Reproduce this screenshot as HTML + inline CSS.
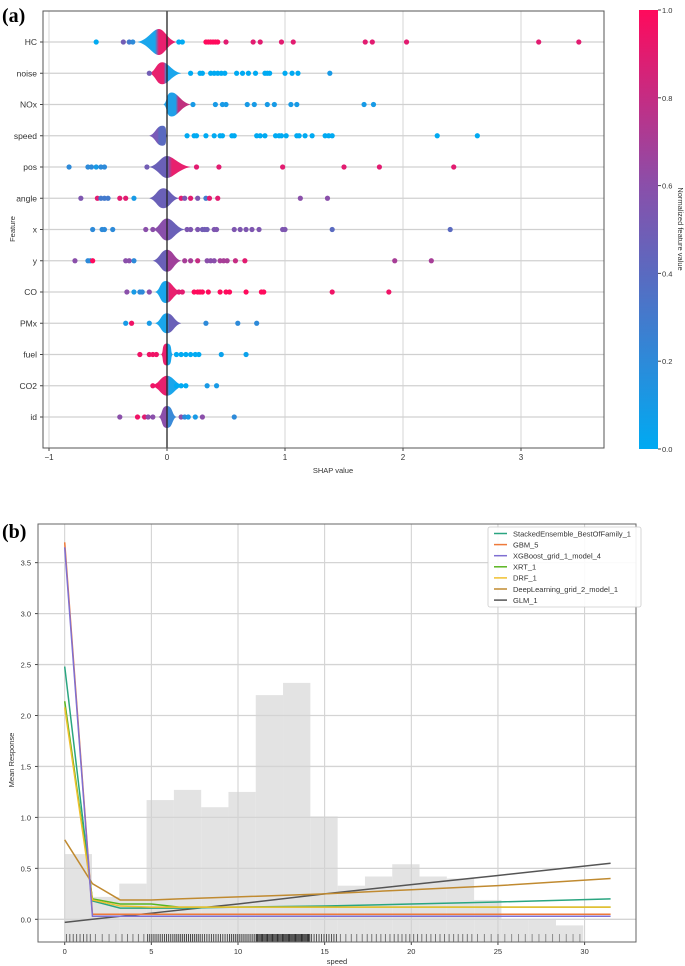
<!DOCTYPE html>
<html><head><meta charset="utf-8">
<style>
html,body{margin:0;padding:0;background:#fff;}
svg{display:block;font-family:"Liberation Sans",sans-serif;}
</style></head>
<body>
<svg id="chart" width="685" height="966" viewBox="0 0 685 966" xmlns="http://www.w3.org/2000/svg">
<defs>
<linearGradient id="cbar" x1="0" y1="1" x2="0" y2="0">
<stop offset="0" stop-color="#00aaf2"/><stop offset="0.4" stop-color="#5a6ac0"/><stop offset="0.6" stop-color="#8a4faa"/><stop offset="1" stop-color="#ff0a5c"/>
</linearGradient>
</defs>
<g id="pa"></g>
<g id="pb"></g>
</svg>
<script>
// ---------- Panel (a) data ----------
const features = ["HC","noise","NOx","speed","pos","angle","x","y","CO","PMx","fuel","CO2","id"];
const shapTicks = [-1,0,1,2,3];
const blobLo   = [-0.25,-0.15,-0.03,-0.15,-0.15,-0.15,-0.12,-0.12,-0.10,-0.10,-0.05,-0.13,-0.07];
const blobHi   = [ 0.08, 0.12, 0.20, 0.00, 0.20, 0.10, 0.15, 0.12, 0.12, 0.12, 0.05, 0.14, 0.08];
const blobPeak = [-0.07,-0.04, 0.04,-0.04, 0.00,-0.03, 0.00, 0.00,-0.01, 0.00, 0.00, 0.00, 0.00];
const blobH    = [13,11,12,10,11,10,11,11,11,10,11,10,11];
const blobLeft = ["#1aa6ec","#e8206e","#20a0e8","#7a5ab8","#6a60b8","#6a60b8","#8a4faa","#6a60b8","#1aa6ec","#1aa6ec","#e8206e","#e8206e","#8a4faa"];
const blobRight= ["#e8206e","#1aa6ec","#c0307e","#5a6ac0","#e8206e","#6a60b8","#6a60b8","#a0409a","#e8206e","#6a60b8","#1aa6ec","#1aa6ec","#3a8ad8"];
// outlier points: shap values and normalized feature values
const ptShap = [
 [-0.6,-0.37,-0.32,-0.29,0.1,0.13,0.33,0.35,0.37,0.39,0.41,0.43,0.5,0.73,0.79,0.97,1.07,1.68,1.74,2.03,3.15,3.49],
 [-0.15,0.2,0.28,0.3,0.37,0.4,0.43,0.46,0.49,0.59,0.64,0.69,0.75,0.83,0.85,0.87,1.0,1.06,1.11,1.38],
 [0.22,0.41,0.47,0.5,0.68,0.74,0.85,0.91,1.05,1.1,1.67,1.75],
 [0.17,0.23,0.25,0.33,0.4,0.45,0.47,0.55,0.57,0.76,0.79,0.83,0.92,0.95,0.97,1.01,1.1,1.12,1.17,1.23,1.34,1.37,1.4,2.29,2.63],
 [-0.83,-0.67,-0.64,-0.6,-0.56,-0.53,-0.17,0.25,0.44,0.98,1.5,1.8,2.43],
 [-0.73,-0.59,-0.56,-0.53,-0.5,-0.4,-0.35,-0.28,0.12,0.15,0.2,0.26,0.33,0.36,0.43,1.13,1.36],
 [-0.63,-0.55,-0.53,-0.46,-0.18,-0.12,0.17,0.2,0.26,0.3,0.32,0.34,0.4,0.42,0.57,0.62,0.67,0.72,0.78,0.98,1.0,1.4,2.4],
 [-0.78,-0.67,-0.65,-0.63,-0.35,-0.32,-0.28,0.15,0.2,0.26,0.34,0.37,0.4,0.45,0.48,0.51,0.58,0.66,1.93,2.24],
 [-0.34,-0.28,-0.23,-0.21,-0.15,0.1,0.13,0.23,0.26,0.28,0.3,0.35,0.45,0.5,0.53,0.67,0.8,0.82,1.4,1.88],
 [-0.35,-0.3,-0.15,0.33,0.6,0.76],
 [-0.23,-0.15,-0.12,-0.09,0.08,0.12,0.16,0.2,0.24,0.27,0.46,0.67],
 [-0.12,-0.08,0.08,0.12,0.16,0.34,0.42],
 [-0.4,-0.25,-0.19,-0.16,-0.12,0.12,0.15,0.18,0.24,0.3,0.57]
];
const ptVal = [
 [0,0.5,0.3,0.2,0,0,1,1,1,1,1,1,0.9,0.9,0.9,0.9,0.9,0.9,0.9,0.9,0.9,0.9],
 [0.5,0,0,0,0,0,0,0,0,0,0,0,0,0,0,0,0,0,0,0.1],
 [0.1,0.1,0.1,0.1,0.1,0.1,0.1,0.1,0.1,0.1,0.1,0.1],
 [0,0,0,0,0,0,0,0,0,0,0,0,0,0,0,0,0,0,0,0,0,0,0,0,0],
 [0.2,0.2,0.2,0.1,0.2,0.2,0.5,0.9,0.9,0.9,0.9,0.9,0.9],
 [0.55,0.9,0.3,0.3,0.3,0.9,0.9,0.1,0.9,0.55,0.9,0.55,0.3,0.9,0.9,0.6,0.6],
 [0.2,0.2,0.2,0.2,0.6,0.6,0.55,0.55,0.55,0.5,0.5,0.5,0.55,0.55,0.55,0.55,0.55,0.55,0.55,0.55,0.55,0.4,0.4],
 [0.6,0.2,0.2,1,0.6,0.6,0.2,0.7,0.7,0.8,0.6,0.6,0.6,0.7,0.7,0.7,0.8,0.9,0.7,0.7],
 [0.6,0.1,0.2,0.2,0.6,0.9,0.9,1,1,1,1,1,1,1,1,1,1,1,0.95,0.95],
 [0.1,0.95,0.1,0.2,0.2,0.2],
 [0.95,0.95,0.95,0.95,0,0,0,0,0,0,0.05,0.05],
 [0.95,0.95,0,0,0,0.1,0.1],
 [0.6,0.95,0.9,0.6,0.6,0.6,0.2,0.1,0.1,0.6,0.2]
];
// ---------- Panel (b) data ----------
const pdX = [0,1.6,3.2,5,6.6,10,15,20,25,31.5];
const seriesNames = ["StackedEnsemble_BestOfFamily_1","GBM_5","XGBoost_grid_1_model_4","XRT_1","DRF_1","DeepLearning_grid_2_model_1","GLM_1"];
const seStacked = [2.48,0.18,0.11,0.11,0.11,0.12,0.13,0.15,0.17,0.2];
const seGBM     = [3.7,0.05,0.05,0.05,0.05,0.05,0.05,0.05,0.05,0.05];
const seXGB     = [3.65,0.03,0.03,0.03,0.03,0.03,0.03,0.03,0.03,0.03];
const seXRT     = [2.14,0.2,0.15,0.15,0.12,0.12,0.12,0.12,0.12,0.12];
const seDRF     = [2.08,0.19,0.13,0.12,0.12,0.12,0.12,0.12,0.12,0.12];
const seDL      = [0.78,0.35,0.19,0.19,0.2,0.22,0.25,0.29,0.33,0.4];
const seGLM     = [-0.03,0.0,0.03,0.06,0.09,0.15,0.25,0.34,0.43,0.55];
const histTop   = [0.64,0.22,0.35,1.17,1.27,1.10,1.25,2.20,2.32,1.01,0.33,0.42,0.54,0.42,0.40,0.19,0.0,0.0,-0.06];
const histBinW  = 1.575;
const xTicksB = [0,5,10,15,20,25,30];
const yTicksB = [0.0,0.5,1.0,1.5,2.0,2.5,3.0,3.5];

const NS="http://www.w3.org/2000/svg";
function mk(parent,tag,attrs,text){const e=document.createElementNS(NS,tag);for(const k in attrs)e.setAttribute(k,attrs[k]);if(text!==undefined)e.textContent=text;parent.appendChild(e);return e;}
function lerpColor(v){
  const stops=[[0,[0,170,242]],[0.4,[90,106,192]],[0.6,[138,79,170]],[1,[255,10,92]]];
  for(let i=1;i<stops.length;i++){if(v<=stops[i][0]){const a=stops[i-1],b=stops[i];const t=(v-a[0])/(b[0]-a[0]);const c=a[1].map((x,j)=>Math.round(x+(b[1][j]-x)*t));return `rgb(${c})`;}}
  return "rgb(255,10,92)";
}
// ===== Panel a =====
const pa=document.getElementById('pa');
const A={l:43,r:604,t:11,b:448};
const ax=v=>167+v*118;
const ay=i=>42+i*31.25;
let t=mk(pa,'text',{x:2,y:22,'font-family':'Liberation Serif,serif','font-weight':'bold','font-size':20});t.textContent='(a)';

shapTicks.forEach(v=>{
  const g=mk(pa,'line',{x1:ax(v),x2:ax(v),y1:A.t,y2:A.b,stroke:'#d6d6d6','stroke-width':1});
  
  const tk=mk(pa,'text',{x:ax(v),y:460,'font-size':8,'text-anchor':'middle',fill:'#333'},v<0?'−'+(-v):String(v));
  
  mk(pa,'line',{x1:ax(v),x2:ax(v),y1:A.b,y2:A.b+3,stroke:'#444'});
});
features.forEach((f,i)=>{
  const g=mk(pa,'line',{x1:A.l,x2:A.r,y1:ay(i),y2:ay(i),stroke:'#d0d0d0','stroke-width':1.2});
  
  const lb=mk(pa,'text',{x:37,y:ay(i)+3,'font-size':8.5,'text-anchor':'end',fill:'#333'},f);
  
  mk(pa,'line',{x1:A.l-3,x2:A.l,y1:ay(i),y2:ay(i),stroke:'#444'});
});
features.forEach((f,i)=>{
  const gid='bg'+i;
  const lg=mk(pa.ownerSVGElement.querySelector('defs'),'linearGradient',{id:gid,x1:0,y1:0,x2:1,y2:0});
  mk(lg,'stop',{offset:0,'stop-color':blobLeft[i]});mk(lg,'stop',{offset:0.45,'stop-color':blobLeft[i]});
  mk(lg,'stop',{offset:0.55,'stop-color':blobRight[i]});mk(lg,'stop',{offset:1,'stop-color':blobRight[i]});
  const lo=ax(blobLo[i]),hi=ax(blobHi[i]),pk=ax(blobPeak[i]),h=blobH[i],y=ay(i);
  const d=`M${lo},${y} C${(lo+pk)/2},${y-2} ${pk-6},${y-h} ${pk},${y-h} C${pk+6},${y-h} ${(pk+hi)/2},${y-2} ${hi},${y} C${(pk+hi)/2},${y+2} ${pk+6},${y+h} ${pk},${y+h} C${pk-6},${y+h} ${(lo+pk)/2},${y+2} ${lo},${y} Z`;
  const b=mk(pa,'path',{d:d,fill:`url(#${gid})`});
  
  ptShap[i].forEach((s,j)=>{
    const c=mk(pa,'circle',{cx:ax(s),cy:y,r:2.6,fill:lerpColor(ptVal[i][j])});
    
  });
});
const zl=mk(pa,'line',{x1:ax(0),x2:ax(0),y1:A.t,y2:A.b,stroke:'#222','stroke-width':1.3});

const fa=mk(pa,'rect',{x:A.l,y:A.t,width:A.r-A.l,height:A.b-A.t,fill:'none',stroke:'#555','stroke-width':1});

t=mk(pa,'text',{x:333,y:473,'font-size':7.5,'text-anchor':'middle',fill:'#333'},'SHAP value');

t=mk(pa,'text',{x:0,y:0,'font-size':7.5,'text-anchor':'middle',fill:'#333',transform:'translate(15,229) rotate(-90)'},'Feature');

const cb=mk(pa,'rect',{x:639,y:10,width:19,height:439,fill:'url(#cbar)'});

[0,0.2,0.4,0.6,0.8,1.0].forEach(v=>{
  const y=449-v*439;
  mk(pa,'line',{x1:658,x2:661,y1:y,y2:y,stroke:'#444'});
  const l=mk(pa,'text',{x:662,y:y+3,'font-size':7.5,fill:'#333'},v.toFixed(1));
  
});
t=mk(pa,'text',{x:0,y:0,'font-size':7.5,'text-anchor':'middle',fill:'#333',transform:'translate(678,229) rotate(90)'},'Normalized feature value');


// ===== Panel b =====
const pb=document.getElementById('pb');
const B={l:38,r:636,t:524,b:942};
const bx=v=>64.7+v*17.33;
const by=v=>919.3-v*101.9;
t=mk(pb,'text',{x:2,y:538,'font-family':'Liberation Serif,serif','font-weight':'bold','font-size':20},'(b)');

histTop.forEach((h,i)=>{
  const x0=bx(i*histBinW),x1=bx((i+1)*histBinW);
  const y=Math.min(by(h),B.b);
  const r=mk(pb,'rect',{x:x0,y:y,width:x1-x0,height:B.b-y,fill:'#e3e3e3'});
  
});
xTicksB.forEach(v=>{
  const g=mk(pb,'line',{x1:bx(v),x2:bx(v),y1:B.t,y2:B.b,stroke:'#cfcfcf','stroke-width':1});
  
  mk(pb,'line',{x1:bx(v),x2:bx(v),y1:B.b,y2:B.b+3,stroke:'#444'});
  const l=mk(pb,'text',{x:bx(v),y:954,'font-size':7.5,'text-anchor':'middle',fill:'#333'},String(v));
  
});
yTicksB.forEach(v=>{
  const g=mk(pb,'line',{x1:B.l,x2:B.r,y1:by(v),y2:by(v),stroke:'#d4d4d4','stroke-width':1.3});
  
  mk(pb,'line',{x1:B.l-3,x2:B.l,y1:by(v),y2:by(v),stroke:'#444'});
  const l=mk(pb,'text',{x:31,y:by(v)+3,'font-size':7.5,'text-anchor':'end',fill:'#333'},v.toFixed(1));
  
});
const rug=mk(pb,'g',{});

histTop.forEach((h,i)=>{
  const n=Math.max(4,Math.round((h+0.25)*9));
  for(let k=0;k<n;k++){
    const v=i*histBinW+histBinW*(k+0.5)/n;
    if(v>31.5)continue;
    mk(rug,'line',{x1:bx(v),x2:bx(v),y1:934,y2:942,stroke:'#111','stroke-width':0.9,'stroke-opacity':Math.min(0.95,0.45+h*0.3)});
  }
});
const colors=["#2aa580","#ee7a3a","#7f6fd2","#5ab520","#f0c030","#c08a30","#555555"];
const series=[seStacked,seGBM,seXGB,seXRT,seDRF,seDL,seGLM];
const order=[6,5,0,3,4,1,2];
order.forEach(si=>{
  const pts=pdX.map((x,i)=>bx(x)+','+by(series[si][i])).join(' ');
  const p=mk(pb,'polyline',{points:pts,fill:'none',stroke:colors[si],'stroke-width':1.5});
  
  
});
const fb=mk(pb,'rect',{x:B.l,y:B.t,width:B.r-B.l,height:B.b-B.t,fill:'none',stroke:'#666','stroke-width':1});

const lgd=mk(pb,'g',{});

mk(lgd,'rect',{x:488,y:527,width:153,height:80,fill:'#fff','fill-opacity':0.9,stroke:'#ccc','stroke-width':0.8,rx:2});
seriesNames.forEach((n,i)=>{
  const y=533.5+i*11.1;
  const e=mk(lgd,'g',{});
  
  mk(e,'line',{x1:494,x2:507,y1:y,y2:y,stroke:colors[i],'stroke-width':1.5});
  mk(e,'text',{x:513,y:y+2.8,'font-size':7.5,fill:'#333'},n);
});
t=mk(pb,'text',{x:337,y:964,'font-size':7.5,'text-anchor':'middle',fill:'#333'},'speed');

t=mk(pb,'text',{x:0,y:0,'font-size':7.5,'text-anchor':'middle',fill:'#333',transform:'translate(14,760) rotate(-90)'},'Mean Response');

</script>
</body></html>
